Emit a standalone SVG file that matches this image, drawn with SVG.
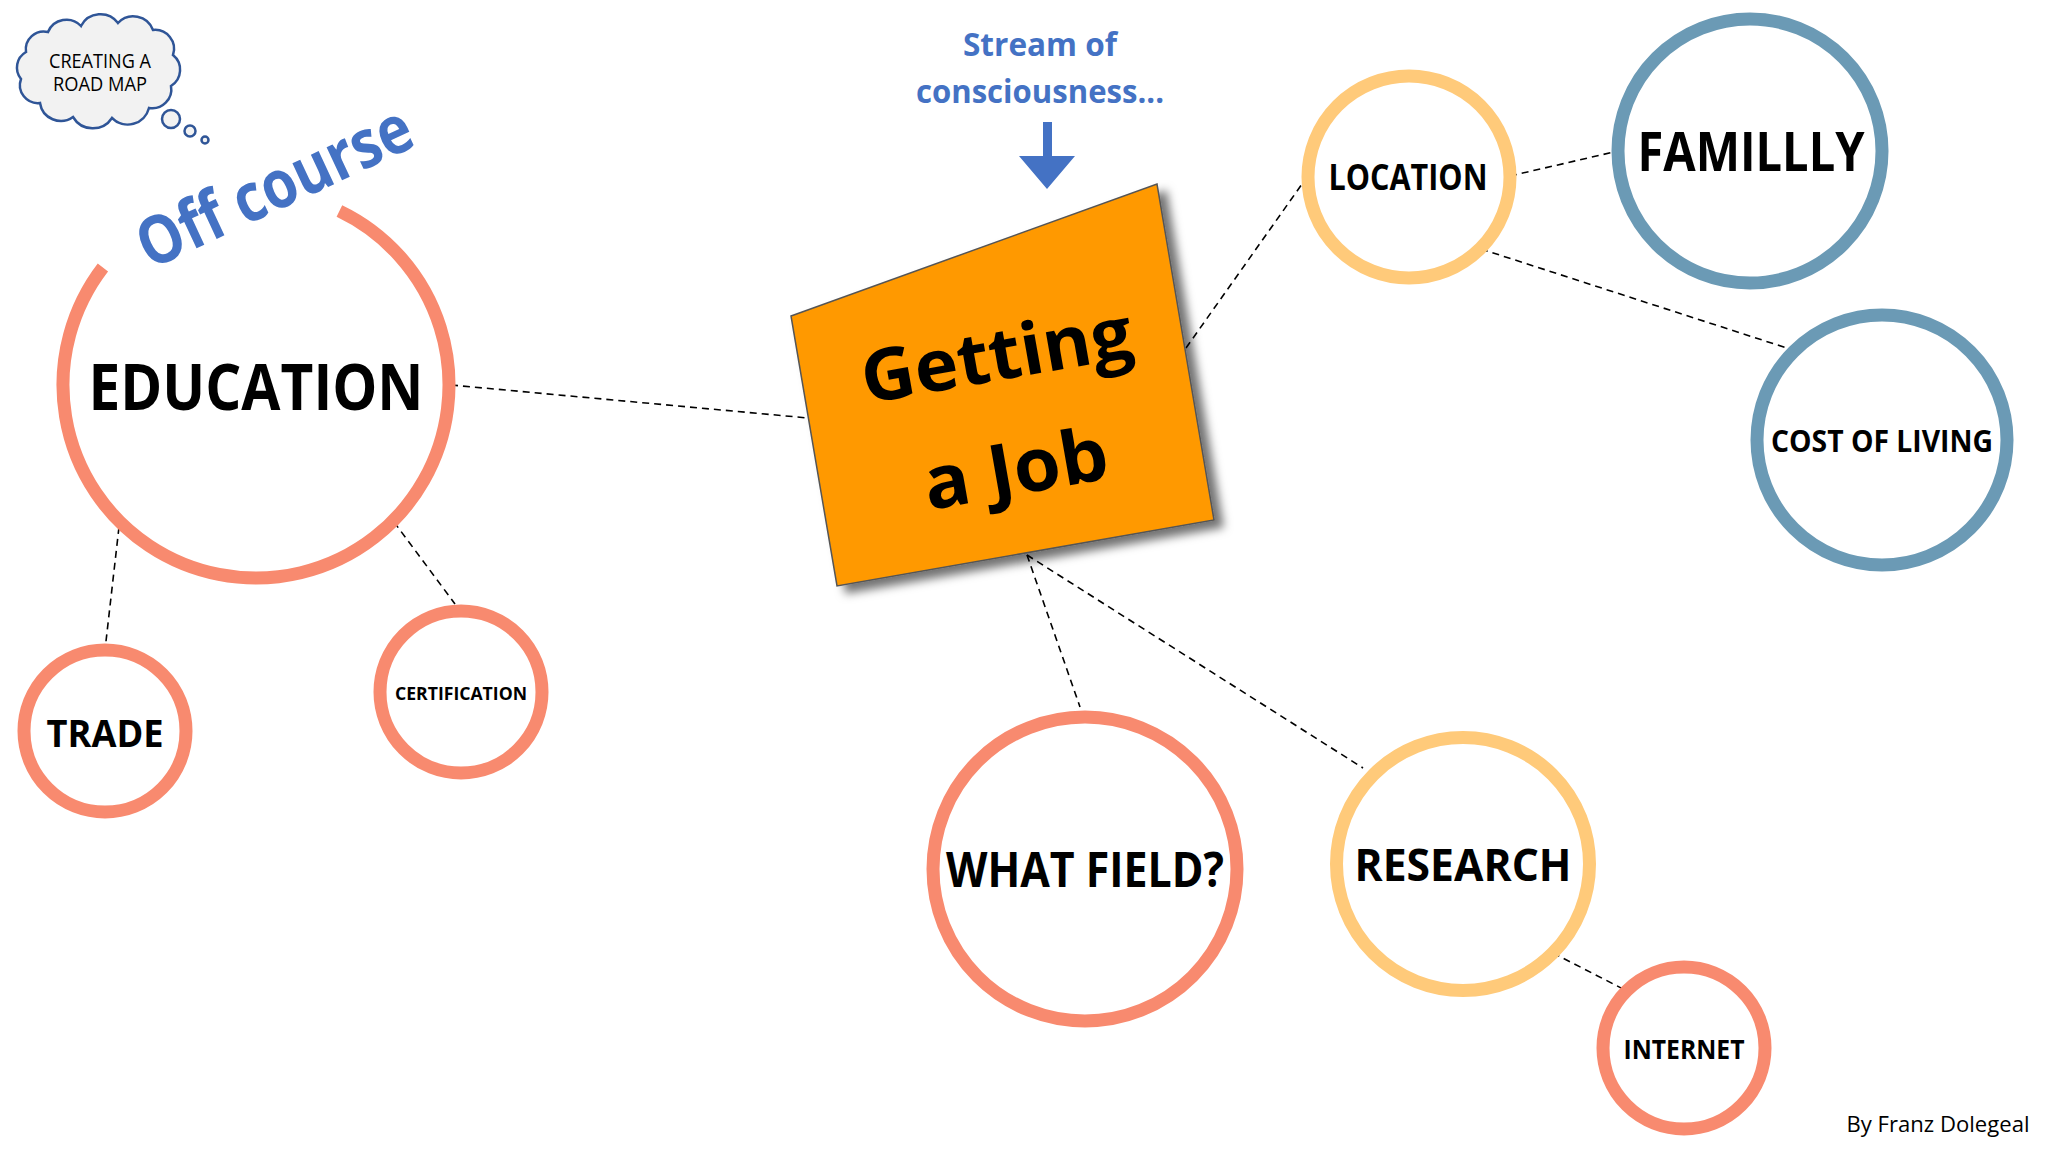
<svg xmlns="http://www.w3.org/2000/svg" width="2048" height="1152" viewBox="0 0 2048 1152">
<defs>
<style>
.t{font-family:"Open Sans","Noto Sans","DejaVu Sans",sans-serif;font-weight:700;fill:#000;text-anchor:middle}
.r{font-weight:400}
.ring{fill:#fff;stroke-width:13}
.arc{fill:none;stroke-width:13}
.salmon{stroke:#F88A6F}
.gold{stroke:#FFCA7A}
.steel{stroke:#6B9AB5}
.blue{fill:#4472C4}
.conn{stroke:#000;stroke-width:1.6;stroke-dasharray:7 5;fill:none}
.bub{fill:#f2f2f2;stroke:#2F5597;stroke-width:2.5}
</style>
<filter id="sh" x="-10%" y="-10%" width="130%" height="130%">
<feGaussianBlur in="SourceAlpha" stdDeviation="5"/>
<feOffset dx="9" dy="7" result="b"/>
<feFlood flood-color="#000" flood-opacity="0.55"/>
<feComposite in2="b" operator="in"/>
<feMerge><feMergeNode/><feMergeNode in="SourceGraphic"/></feMerge>
</filter>
</defs>
<rect width="2048" height="1152" fill="#fff"/>

<g id="connectors" class="conn">
<line x1="451" y1="385" x2="808" y2="418"/>
<line x1="119" y1="527" x2="105" y2="650"/>
<line x1="394" y1="522" x2="455" y2="604"/>
<line x1="1186" y1="348" x2="1307" y2="177"/>
<line x1="1510" y1="176" x2="1618" y2="151"/>
<line x1="1481" y1="249" x2="1793" y2="350"/>
<line x1="1027" y1="555" x2="1080" y2="707"/>
<line x1="1027" y1="555" x2="1363" y2="768"/>
<line x1="1553" y1="953" x2="1627" y2="991"/>
</g>

<g id="thought-cloud">
<path class="bub" d="M21 79 A18 18 0 0 1 26 52 A18 18 0 0 1 48 32 A20 20 0 0 1 81 26 A22 22 0 0 1 118 23 A21 21 0 0 1 153 30 A19 19 0 0 1 173 55 A19 19 0 0 1 171 86 A19 19 0 0 1 149 108 A22 22 0 0 1 112 118 A23 23 0 0 1 73 117 A21 21 0 0 1 40 103 A18 18 0 0 1 21 79 Z"/>
<circle class="bub" cx="171" cy="119" r="9"/>
<circle class="bub" cx="190" cy="131" r="5.5"/>
<circle class="bub" cx="205" cy="140" r="3.5"/>
<text class="t r" x="100" y="68" font-size="20" textLength="102" lengthAdjust="spacingAndGlyphs">CREATING A</text>
<text class="t r" x="100" y="91" font-size="20" textLength="94" lengthAdjust="spacingAndGlyphs">ROAD MAP</text>
</g>

<g id="education">
<path class="arc salmon" d="M339.4 211 A193 193 0 1 1 102.9 267.5"/>
<text class="t" x="256" y="410" font-size="64" textLength="335" lengthAdjust="spacingAndGlyphs">EDUCATION</text>
</g>

<g id="off-course">
<text class="t blue" style="text-anchor:start" transform="translate(150,270) rotate(-25)" font-size="67" textLength="296" lengthAdjust="spacingAndGlyphs">Off course</text>
</g>

<g id="stream">
<text class="t blue" x="1040" y="56" font-size="32" textLength="154" lengthAdjust="spacingAndGlyphs">Stream of</text>
<text class="t blue" x="1040" y="103" font-size="32" textLength="248" lengthAdjust="spacingAndGlyphs">consciousness...</text>
<polygon fill="#4472C4" points="1043,122 1052,122 1052,156 1075,156 1047,189 1019,156 1043,156"/>
</g>

<g id="trade">
<circle class="ring salmon" cx="105" cy="731" r="81"/>
<text class="t" x="105" y="747" font-size="38" textLength="117" lengthAdjust="spacingAndGlyphs">TRADE</text>
</g>

<g id="certification">
<circle class="ring salmon" cx="461" cy="692" r="81"/>
<text class="t" x="461" y="700" font-size="18.5" textLength="132" lengthAdjust="spacingAndGlyphs">CERTIFICATION</text>
</g>

<g id="getting-a-job">
<polygon points="791,316 1157,184 1214,520 837,586" fill="#FF9900" stroke="#555" stroke-width="1.5" filter="url(#sh)"/>
<text class="t" transform="translate(1001,380) rotate(-10)" font-size="72" textLength="274" lengthAdjust="spacingAndGlyphs">Getting</text>
<text class="t" transform="translate(1020,494) rotate(-10)" font-size="74" textLength="186" lengthAdjust="spacingAndGlyphs">a Job</text>
</g>

<g id="location">
<circle class="ring gold" cx="1409" cy="177" r="101"/>
<text class="t" x="1408" y="190" font-size="35" textLength="159" lengthAdjust="spacingAndGlyphs">LOCATION</text>
</g>

<g id="familly">
<circle class="ring steel" cx="1750" cy="151" r="132"/>
<text class="t" x="1751" y="171" font-size="53" textLength="227" lengthAdjust="spacingAndGlyphs">FAMILLLY</text>
</g>

<g id="cost-of-living">
<circle class="ring steel" cx="1882" cy="440" r="125"/>
<text class="t" x="1882" y="452" font-size="31" textLength="222" lengthAdjust="spacingAndGlyphs">COST OF LIVING</text>
</g>

<g id="what-field">
<circle class="ring salmon" cx="1085" cy="869" r="152"/>
<text class="t" x="1085" y="887" font-size="48" textLength="278" lengthAdjust="spacingAndGlyphs">WHAT FIELD?</text>
</g>

<g id="research">
<circle class="ring gold" cx="1463" cy="864" r="126.5"/>
<text class="t" x="1463" y="881" font-size="45" textLength="217" lengthAdjust="spacingAndGlyphs">RESEARCH</text>
</g>

<g id="internet">
<circle class="ring salmon" cx="1684" cy="1048" r="81"/>
<text class="t" x="1684" y="1059" font-size="26" textLength="121" lengthAdjust="spacingAndGlyphs">INTERNET</text>
</g>

<g id="credit">
<text class="t r" x="1938" y="1132" font-size="21" textLength="183" lengthAdjust="spacingAndGlyphs">By Franz Dolegeal</text>
</g>
</svg>
